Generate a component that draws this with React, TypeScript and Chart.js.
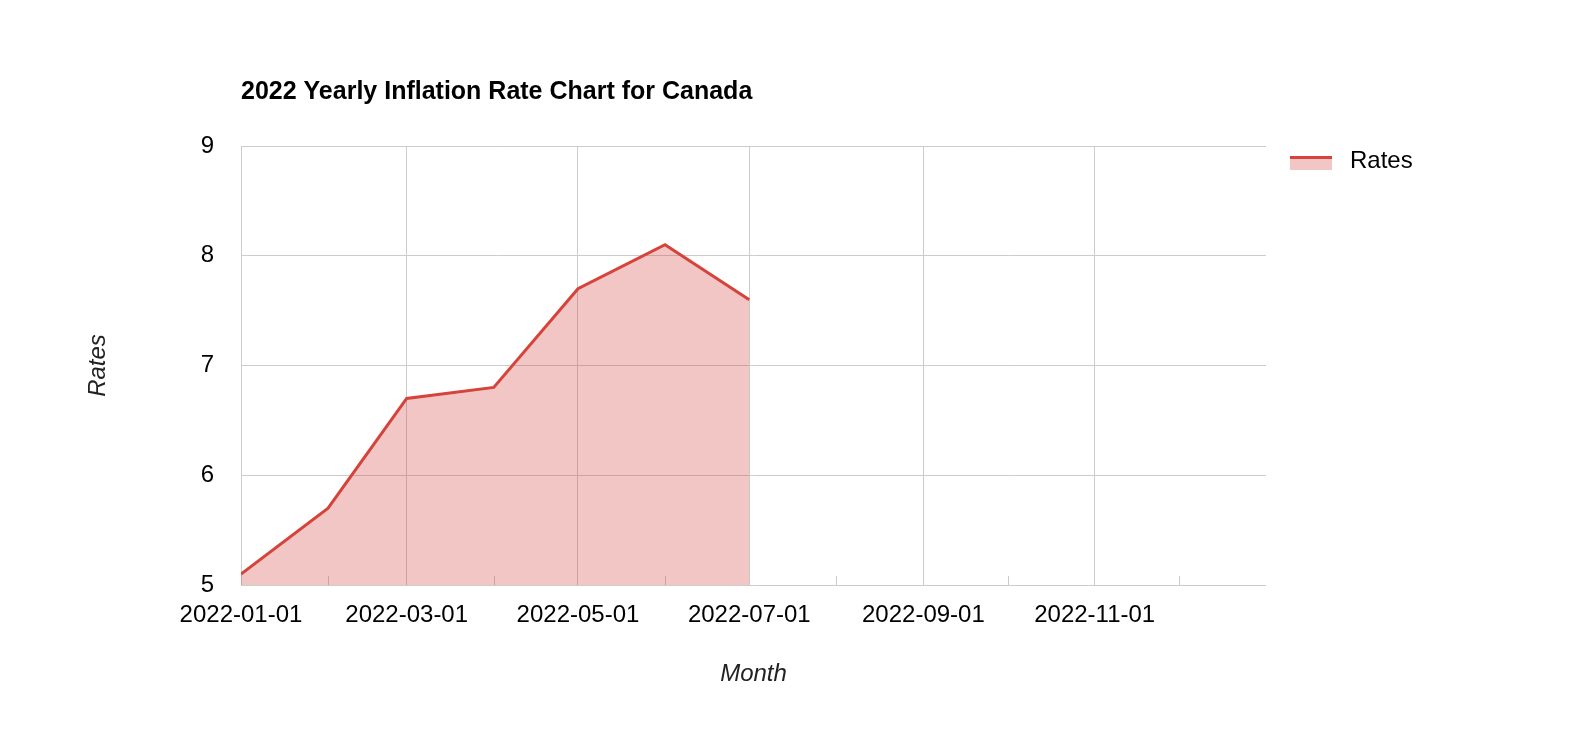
import React, { useEffect, useRef } from "react";
import { Chart, registerables } from "chart.js";

Chart.register(...registerables);

// ---- Data ----
const chartTitle = "2022 Yearly Inflation Rate Chart for Canada";
const seriesName = "Rates";
const xAxisTitle = "Month";
const yAxisTitle = "Rates";

const months = [
  "2022-01-01",
  "2022-02-01",
  "2022-03-01",
  "2022-04-01",
  "2022-05-01",
  "2022-06-01",
  "2022-07-01",
];
const rates = [5.1, 5.7, 6.7, 6.8, 7.7, 8.1, 7.6];

const majorTickDates = [
  "2022-01-01",
  "2022-03-01",
  "2022-05-01",
  "2022-07-01",
  "2022-09-01",
  "2022-11-01",
];
const minorTickDates = [
  "2022-02-01",
  "2022-04-01",
  "2022-06-01",
  "2022-08-01",
  "2022-10-01",
  "2022-12-01",
];
const axisStart = "2022-01-01";
const axisEnd = "2023-01-01";
const yMin = 5;
const yMax = 9;
const yStep = 1;

// ---- Styles ----
const FONT = '"Liberation Sans", Arial, Helvetica, sans-serif';
const LINE_COLOR = "rgb(213, 67, 58)";
const FILL_COLOR = "rgba(213, 67, 58, 0.3)";
const GRID_COLOR = "#cccccc";
const TEXT_COLOR = "#000000";

const dayOf = (s: string) =>
  (Date.parse(s + "T00:00:00Z") - Date.parse(axisStart + "T00:00:00Z")) / 86400000;

const decorPlugin = {
  id: "decor",
  beforeDatasetsDraw(chart: any) {
    const { ctx, chartArea, scales } = chart;
    const xs = scales.x;
    ctx.save();
    ctx.strokeStyle = GRID_COLOR;
    ctx.lineWidth = 1;
    minorTickDates.forEach((d) => {
      const px = Math.round(xs.getPixelForValue(dayOf(d))) + 0.5;
      ctx.beginPath();
      ctx.moveTo(px, chartArea.bottom);
      ctx.lineTo(px, chartArea.bottom - 9);
      ctx.stroke();
    });
    ctx.restore();
  },
  afterDraw(chart: any) {
    const { ctx, chartArea } = chart;
    ctx.save();
    // Title
    ctx.fillStyle = TEXT_COLOR;
    ctx.font = `bold 25px ${FONT}`;
    ctx.textAlign = "left";
    ctx.textBaseline = "middle";
    ctx.fillText(chartTitle, chartArea.left, chartArea.top - 54);

    // Legend
    const lx = chartArea.right + 24;
    const ly = chartArea.top + 10;
    ctx.fillStyle = FILL_COLOR;
    ctx.fillRect(lx, ly, 42, 14);
    ctx.fillStyle = LINE_COLOR;
    ctx.fillRect(lx, ly, 42, 3);
    ctx.fillStyle = TEXT_COLOR;
    ctx.font = `24px ${FONT}`;
    ctx.textAlign = "left";
    ctx.textBaseline = "middle";
    ctx.fillText(seriesName, lx + 60, ly + 5);
    ctx.restore();
  },
};

export default function App() {
  const canvasRef = useRef<HTMLCanvasElement | null>(null);

  useEffect(() => {
    if (!canvasRef.current) return;
    Chart.defaults.font.family = FONT;
    const chart = new Chart(canvasRef.current, {
      type: "line",
      data: {
        datasets: [
          {
            label: seriesName,
            data: months.map((m, i) => ({ x: dayOf(m), y: rates[i] })),
            borderColor: LINE_COLOR,
            backgroundColor: FILL_COLOR,
            borderWidth: 3,
            borderJoinStyle: "miter",
            fill: "start",
            pointRadius: 0,
            pointHoverRadius: 0,
            tension: 0,
          },
        ],
      },
      options: {
        responsive: false,
        animation: false,
        events: [],
        layout: { padding: { top: 146, right: 316, left: 0, bottom: 0 } },
        plugins: {
          legend: { display: false },
          title: { display: false },
          tooltip: { enabled: false },
        },
        scales: {
          x: {
            type: "linear",
            min: dayOf(axisStart),
            max: dayOf(axisEnd),
            afterBuildTicks: (s: any) => {
              s.ticks = majorTickDates.map((d) => ({ value: dayOf(d) }));
            },
            afterFit: (s: any) => {
              s.height = 149;
            },
            ticks: {
              autoSkip: false,
              maxRotation: 0,
              minRotation: 0,
              padding: 16,
              color: TEXT_COLOR,
              font: { size: 24 },
              callback: (_v: any, i: number) => majorTickDates[i],
            },
            grid: { color: GRID_COLOR, lineWidth: 1, drawTicks: false },
            border: { display: false },
            title: {
              display: true,
              text: xAxisTitle,
              color: "#222222",
              font: { size: 24, style: "italic" },
              padding: { top: 0, bottom: 45 },
            },
          },
          y: {
            type: "linear",
            min: yMin,
            max: yMax,
            afterFit: (s: any) => {
              s.width = 241;
            },
            ticks: {
              stepSize: yStep,
              padding: 27,
              color: TEXT_COLOR,
              font: { size: 24 },
            },
            grid: { color: GRID_COLOR, lineWidth: 1, drawTicks: false },
            border: { display: false },
            title: {
              display: true,
              text: yAxisTitle,
              color: "#222222",
              font: { size: 24, style: "italic" },
              padding: { top: 84, bottom: 0 },
            },
          },
        },
      },
      plugins: [decorPlugin],
    } as any);
    return () => chart.destroy();
  }, []);

  return (
    <div style={{ position: "fixed", left: 0, top: 0, width: 1582, height: 734, background: "#fff" }}>
      <canvas ref={canvasRef} width={1582} height={734} style={{ width: 1582, height: 734, display: "block" }} />
    </div>
  );
}
